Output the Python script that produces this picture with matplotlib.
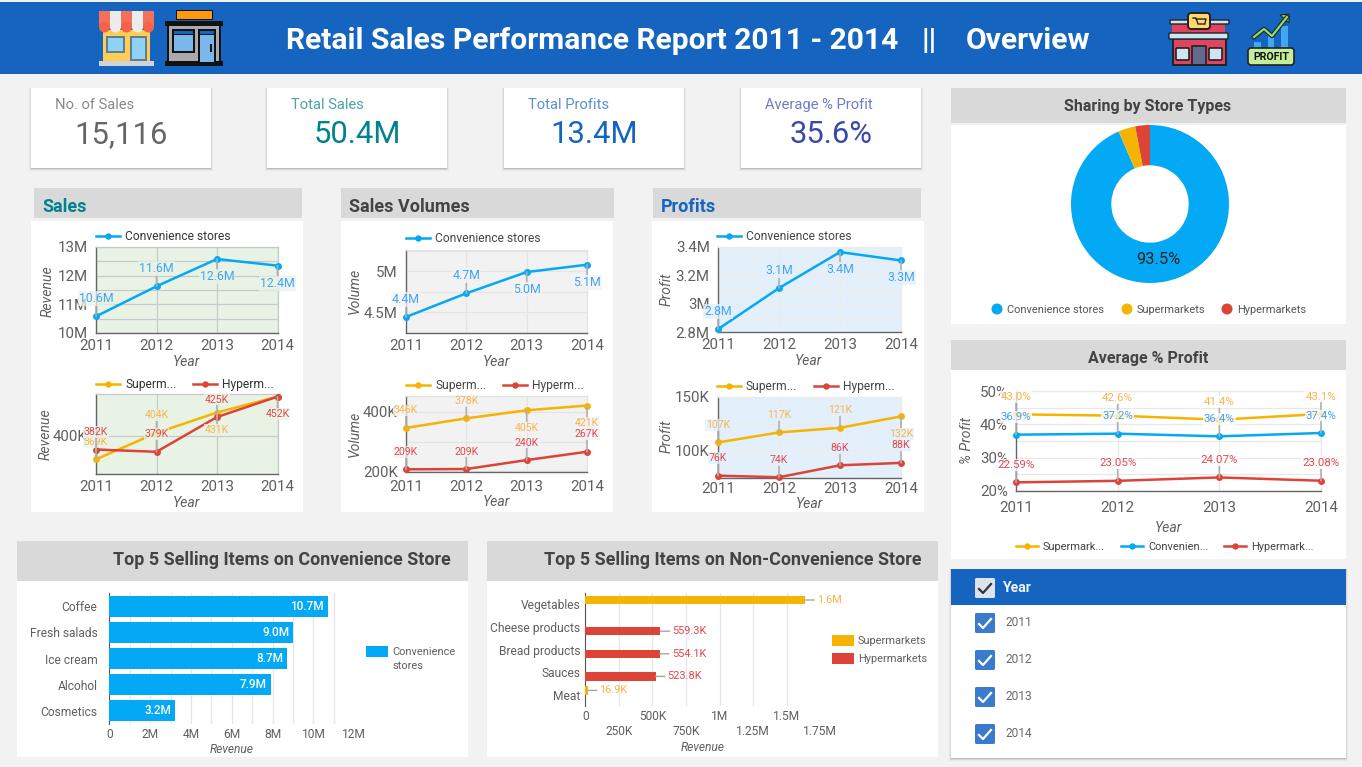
import matplotlib
matplotlib.use("Agg")
import numpy as np
from matplotlib import pyplot as plt
from matplotlib.patches import Rectangle, FancyBboxPatch, Circle, Polygon
from matplotlib.lines import Line2D

plt.rcParams['font.family'] = ['Roboto', 'DejaVu Sans']

W, H = 1362, 767
PT = 0.72  # px -> pt at dpi 100

BLUE = '#03a9f4'
YELLOW = '#f4b400'
RED = '#db4437'
LBL_BLUE = '#3fa4f5'
LBL_YELLOW = '#f9b44a'
LBL_RED = '#e2474e'
HEADER = '#1565c0'

years = [2011, 2012, 2013, 2014]

# sales, millions / thousands
sales_conv = [10.58, 11.63, 12.58, 12.35]
sales_conv_lbl = ['10.6M', '11.6M', '12.6M', '12.4M']
sales_super = [369, 404, 431, 452]
sales_super_lbl = ['369K', '404K', '431K', '']
sales_hyper = [382, 379, 425, 452]
sales_hyper_lbl = ['382K', '379K', '425K', '452K']

# volumes
vol_conv = [4.44, 4.73, 4.99, 5.08]
vol_conv_lbl = ['4.4M', '4.7M', '5.0M', '5.1M']
vol_super = [346, 378, 405, 421]
vol_super_lbl = ['346K', '378K', '405K', '421K']
vol_hyper = [207, 208, 238, 266]
vol_hyper_lbl = ['209K', '209K', '240K', '267K']

# profits
prof_conv = [2.82, 3.11, 3.364, 3.305]
prof_conv_lbl = ['2.8M', '3.1M', '3.4M', '3.3M']
prof_super = [107.8, 117.1, 121.4, 132]
prof_super_lbl = ['107K', '117K', '121K', '132K']
prof_hyper = [77, 75.5, 86.6, 88.8]
prof_hyper_lbl = ['76K', '74K', '86K', '88K']

# average % profit
avg_super = [43.0, 42.6, 41.4, 43.1]
avg_super_lbl = ['43.0%', '42.6%', '41.4%', '43.1%']
avg_conv = [36.9, 37.2, 36.4, 37.4]
avg_conv_lbl = ['36.9%', '37.2%', '36.4%', '37.4%']
avg_hyper = [22.59, 23.05, 24.07, 23.08]
avg_hyper_lbl = ['22.59%', '23.05%', '24.07%', '23.08%']

# store type share
share_names = ['Convenience stores', 'Supermarkets', 'Hypermarkets']
share_values = [93.5, 3.5, 3.0]

# top 5 items
items_conv = ['Coffee', 'Fresh salads', 'Ice cream', 'Alcohol', 'Cosmetics']
items_conv_rev = [10.7, 9.0, 8.7, 7.9, 3.2]
items_conv_lbl = ['10.7M', '9.0M', '8.7M', '7.9M', '3.2M']

items_non = ['Vegetables', 'Cheese products', 'Bread products', 'Sauces', 'Meat']
items_non_super = [1636, 0, 0, 0, 16.9]
items_non_super_lbl = ['1.6M', '', '', '', '16.9K']
items_non_hyper = [0, 559.3, 554.1, 523.8, 0]
items_non_hyper_lbl = ['', '559.3K', '554.1K', '523.8K', '']

kpi_titles = ['No. of Sales', 'Total Sales', 'Total Profits', 'Average % Profit']
kpi_values = ['15,116', '50.4M', '13.4M', '35.6%']

fig = plt.figure(figsize=(W / 100, H / 100), dpi=100, facecolor='#f2f2f2')
bg = fig.add_axes([0, 0, 1, 1], zorder=0)
bg.set_xlim(0, W)
bg.set_ylim(H, 0)
bg.axis('off')


def rect(x0, y0, x1, y1, color, **kw):
    bg.add_patch(Rectangle((x0, y0), x1 - x0, y1 - y0, facecolor=color, edgecolor='none', **kw))


def rrect(x0, y0, x1, y1, color, r=1.5, ec='none', lw=0, **kw):
    bg.add_patch(FancyBboxPatch((x0 + r, y0 + r), x1 - x0 - 2 * r, y1 - y0 - 2 * r,
                                boxstyle='round,pad=%f,rounding_size=%f' % (r, r),
                                facecolor=color, edgecolor=ec, linewidth=lw, **kw))


def txt(x, y, s, px, color='#5f5f5f', ha='left', va='center', **kw):
    # roboto sits a bit high with va=center
    if kw.get('rotation'):
        x = x + 0.08 * px
    else:
        y = y + 0.08 * px
    bg.text(x, y, s, fontsize=px * PT, color=color, ha=ha, va=va, **kw)


def shadow(x0, y0, x1, y1):
    for i, a in zip((3, 2, 1), (0.04, 0.07, 0.12)):
        rect(x0 - i + 1, y0, x1 + i - 1, y1 + i, '#000000', alpha=a)


def px_axes(x0, y0, x1, y1, **kw):
    return fig.add_axes([x0 / W, 1 - y1 / H, (x1 - x0) / W, (y1 - y0) / H], zorder=2, **kw)


def legend_line(x, y, color, label, px=12, tc='#444444', length=24):
    bg.add_line(Line2D([x, x + length], [y, y], color=color, lw=1.8))
    bg.add_line(Line2D([x + length / 2], [y], color=color, marker='o', ms=4.6, mew=0))
    txt(x + length + 5, y, label, px, color=tc)


def line_chart(box, series, ylim, yticks, ylabels, grid, face, gridc, lblpx=10.5, xpad=4.3):
    ax = px_axes(*box)
    ax.set_facecolor(face)
    ax.set_xlim(2011, 2014)
    ax.set_ylim(*ylim)
    ax.set_xticks(years)
    ax.set_xticklabels([str(y) for y in years])
    ax.set_yticks(yticks)
    ax.set_yticklabels(ylabels)
    ax.set_yticks(grid, minor=True)
    ax.tick_params(axis='both', which='both', length=0, labelsize=15 * PT, labelcolor='#5f5f5f')
    ax.tick_params(axis='x', pad=xpad)
    ax.tick_params(axis='y', pad=6)
    ax.grid(True, which='both', color=gridc, lw=0.9)
    ax.set_axisbelow(True)
    for side in ('top', 'right'):
        ax.spines[side].set_color(gridc)
        ax.spines[side].set_linewidth(0.9)
    for side in ('left', 'bottom'):
        ax.spines[side].set_color('#666666')
        ax.spines[side].set_linewidth(1.0)
    for vals, labels, dirs, color, lcolor in series:
        ax.plot(years, vals, color=color, lw=1.8, marker='o', ms=5, mew=0, clip_on=False, zorder=4)
        for yr, v, s, d in zip(years, vals, labels, dirs):
            if not s:
                continue
            ax.annotate(s, (yr, v), xytext=(0, d * 17.5 * PT), textcoords='offset points',
                        ha='center', va='center', fontsize=lblpx * PT, color=lcolor, zorder=5,
                        bbox=dict(boxstyle='square,pad=0.08', fc=face, ec='none', alpha=0.75),
                        arrowprops=dict(arrowstyle='-', color='#b0b0b0', lw=1.2, shrinkA=0, shrinkB=0),
                        annotation_clip=False)
    return ax


# page header
rect(0, 2, W, 74, HEADER)
txt(286, 39, 'Retail Sales Performance Report 2011 - 2014', 30, '#ffffff', weight='bold')
txt(922, 39, '||', 30, '#ffffff', weight='bold')
txt(966, 39, 'Overview', 30, '#ffffff', weight='bold')

# shop icon with awning
rect(103, 30, 150, 62, '#ffcc55')
rect(99, 61, 154, 66, '#d0d4d8')
rect(106, 36, 125, 53, '#5f7f90')
rect(108, 38, 123, 51, '#8fd3f4')
rect(130, 36, 147, 61, '#5f7f90')
rect(132, 38, 145, 59, '#8fd3f4')
for i, c in enumerate(['#f4624a', '#ececec', '#f4624a', '#ececec', '#f4624a']):
    x0 = 99 + i * 11
    rect(x0, 11, x0 + 11, 27, '#f4705a' if i % 2 == 0 else '#ececec')
    bg.add_patch(Circle((x0 + 5.5, 27), 5.5, facecolor=c, edgecolor='none'))

# dark storefront icon
rect(176, 10, 213, 20, '#111111')
rect(177, 11, 212, 19, '#ff9a0e')
rect(165, 21, 223, 26, '#111111')
rect(168, 26, 220, 62, '#aaa9ad', lw=0)
rect(165, 61, 223, 66, '#111111')
rect(167, 25, 169, 62, '#111111')
rect(219, 25, 221, 62, '#111111')
rect(172, 29, 195, 53, '#111111')
rect(174, 31, 193, 34, '#1565c0')
rect(174, 35, 193, 51, '#7ab8ec')
rect(198, 29, 216, 62, '#111111')
rect(200, 31, 214, 34, '#1565c0')
rect(200, 35, 214, 62, '#7ab8ec')
rect(210, 44, 212, 52, '#111111')

# shop with cart icon
rect(1172, 22, 1225, 36, '#e0445f')
rrect(1170, 20, 1229, 24, '#cfe5f2', r=1, ec='#222222', lw=1)
rect(1173, 40, 1226, 65, '#e0445f')
rrect(1169, 33, 1228, 39, '#cfe5f2', r=1, ec='#222222', lw=1)
rrect(1188, 13, 1210, 29, '#ffd970', r=3, ec='#222222', lw=1.4)
bg.add_line(Line2D([1193, 1196, 1198, 1205], [18, 18, 24, 24], color='#222222', lw=1))
bg.add_line(Line2D([1196, 1206, 1205], [19, 19, 23], color='#222222', lw=1))
bg.add_line(Line2D([1173, 1173, 1226, 1226], [40, 65, 65, 40], color='#222222', lw=1.4))
rrect(1176, 48, 1189, 60, '#cfe5f2', r=1, ec='#222222', lw=1.2)
rrect(1209, 48, 1222, 60, '#cfe5f2', r=1, ec='#222222', lw=1.2)
rect(1192, 46, 1206, 65, '#666a8f')
bg.add_line(Line2D([1192, 1192, 1206, 1206], [65, 46, 46, 65], color='#222222', lw=1.2))

# profit icon
rect(1254, 42, 1261, 50, '#44a5f0')
rect(1268, 34, 1274, 50, '#44a5f0')
rect(1281, 26, 1288, 50, '#44a5f0')
bg.add_line(Line2D([1254, 1264, 1272, 1287], [37, 29, 36, 17], color='#222222', lw=3.2))
bg.add_line(Line2D([1254, 1264, 1272, 1287], [37, 29, 36, 17], color='#8fdc6f', lw=1.6))
bg.add_patch(Polygon([[1280, 15], [1289, 14], [1289, 23]], facecolor='#8fdc6f', edgecolor='#222222', lw=0.8))
rrect(1248, 48, 1294, 65, '#c5ee9c', r=3, ec='#222222', lw=1.2)
txt(1271, 56.5, 'PROFIT', 10.5, '#111111', ha='center', weight='bold')

# KPI cards
kpi_x = [31, 267, 504, 741]
kpi_tc = ['#8a8a8a', '#4ba3a8', '#5b8fd0', '#6f7cc8']
kpi_vc = ['#666666', '#00838f', '#1565c0', '#3949ab']
for x, t, v, tc, vc in zip(kpi_x, kpi_titles, kpi_values, kpi_tc, kpi_vc):
    shadow(x, 88, x + 180, 168)
    rect(x, 88, x + 180, 168, '#ffffff')
    txt(x + 24, 104, t, 14.8, tc)
    txt(x + 90, 132, v, 31, vc, ha='center')

# panel backgrounds
rect(31, 221, 303, 512, '#ffffff')
rect(341, 221, 613, 512, '#ffffff')
rect(652, 221, 924, 512, '#ffffff')
rect(34, 188, 302, 218, '#d9d9d9')
rect(341, 188, 614, 218, '#d9d9d9')
rect(653, 188, 921, 218, '#d9d9d9')
txt(42, 206, 'Sales', 18, '#00838f', weight='bold')
txt(349, 206, 'Sales Volumes', 18, '#434343', weight='bold')
txt(661, 206, 'Profits', 18, '#1565c0', weight='bold')

rect(951, 88, 1346, 123, '#d9d9d9')
rect(951, 125, 1346, 324, '#ffffff')
txt(1148, 105, 'Sharing by Store Types', 16, '#434343', ha='center', weight='bold')
rect(951, 340, 1346, 370, '#d9d9d9')
rect(951, 370, 1346, 559, '#ffffff')
txt(1148, 357, 'Average % Profit', 16, '#434343', ha='center', weight='bold')

rect(17, 541, 468, 581, '#d9d9d9')
rect(17, 581, 468, 757, '#ffffff')
txt(451, 559, 'Top 5 Selling Items on Convenience Store', 17.9, '#434343', ha='right', weight='bold')
rect(487, 541, 938, 581, '#d9d9d9')
rect(487, 581, 938, 757, '#ffffff')
txt(921, 559, 'Top 5 Selling Items on Non-Convenience Store', 17.9, '#434343', ha='right', weight='bold')

GREEN_BG, GREEN_GRID = '#e8f3e6', '#c9c9c9'
GREY_BG, GREY_GRID = '#f2f2f2', '#e4e4e4'
SKY_BG, SKY_GRID = '#e3f0fb', '#ebebeb'

# sales charts
legend_line(96, 236, BLUE, 'Convenience stores', tc='#333333')
line_chart((96, 247, 277.5, 333), [(sales_conv, sales_conv_lbl, [1, 1, -1, -1], BLUE, LBL_BLUE)],
           (10, 13), [10, 11, 12, 13], ['10M', '11M', '12M', '13M'], [10.5, 11.5, 12.5], GREEN_BG, GREEN_GRID, 12.2)
legend_line(96, 384, YELLOW, 'Superm...', tc='#333333')
legend_line(193, 384, RED, 'Hyperm...', tc='#333333')
line_chart((96, 394, 277.5, 474),
           [(sales_super, sales_super_lbl, [1, 1, -1, 1], YELLOW, LBL_YELLOW),
            (sales_hyper, sales_hyper_lbl, [1, 1, 1, -1], RED, LBL_RED)],
           (349.6, 455.5), [400], ['400K'], [], GREEN_BG, GREEN_GRID)
txt(46, 291, 'Revenue', 14, rotation=90, ha='center', style='italic')
txt(44, 434, 'Revenue', 14, rotation=90, ha='center', style='italic')
txt(187, 361, 'Year', 14, ha='center', style='italic')
txt(187, 502, 'Year', 14, ha='center', style='italic')

# volume charts
legend_line(406, 238, BLUE, 'Convenience stores')
line_chart((406, 250, 587, 333), [(vol_conv, vol_conv_lbl, [1, 1, -1, -1], BLUE, LBL_BLUE)],
           (4.244, 5.26), [4.5, 5], ['4.5M', '5M'], [4.25, 4.75, 5.25], GREY_BG, GREY_GRID, 12.2)
legend_line(406, 385, YELLOW, 'Superm...')
legend_line(503, 385, RED, 'Hyperm...')
line_chart((406, 396, 587, 472),
           [(vol_super, vol_super_lbl, [1, 1, -1, -1], YELLOW, LBL_YELLOW),
            (vol_hyper, vol_hyper_lbl, [1, 1, 1, 1], RED, LBL_RED)],
           (198, 453), [200, 400], ['200K', '400K'], [300], GREY_BG, GREY_GRID, xpad=5.7)
txt(354, 291, 'Volume', 14, rotation=90, ha='center', style='italic')
txt(354, 434, 'Volume', 14, rotation=90, ha='center', style='italic')
txt(497, 361, 'Year', 14, ha='center', style='italic')
txt(497, 501, 'Year', 14, ha='center', style='italic')

# profit charts
legend_line(717, 236, BLUE, 'Convenience stores')
line_chart((718, 247, 901, 332), [(prof_conv, prof_conv_lbl, [1, 1, -1, -1], BLUE, LBL_BLUE)],
           (2.8, 3.4), [2.8, 3.0, 3.2, 3.4], ['2.8M', '3M', '3.2M', '3.4M'], [2.9, 3.1, 3.3], SKY_BG, SKY_GRID, 12.2)
legend_line(717, 386, YELLOW, 'Superm...')
legend_line(814, 386, RED, 'Hyperm...')
line_chart((718, 397, 901, 478),
           [(prof_super, prof_super_lbl, [1, 1, 1, -1], YELLOW, LBL_YELLOW),
            (prof_hyper, prof_hyper_lbl, [1, 1, 1, 1], RED, LBL_RED)],
           (74.8, 150), [100, 150], ['100K', '150K'], [125], SKY_BG, SKY_GRID, xpad=2.8)
txt(665, 289, 'Profit', 14, rotation=90, ha='center', style='italic')
txt(665, 436, 'Profit', 14, rotation=90, ha='center', style='italic')
txt(809, 360, 'Year', 14, ha='center', style='italic')
txt(810, 503, 'Year', 14, ha='center', style='italic')

# donut
ax_pie = px_axes(1071, 125, 1229, 283)
ax_pie.pie(share_values, colors=[BLUE, YELLOW, RED], startangle=90, counterclock=False,
           radius=1.0, wedgeprops=dict(width=0.51, edgecolor='none'))
ax_pie.set_xlim(-1, 1)
ax_pie.set_ylim(-1, 1)
ax_pie.text(0.11, -0.70, '93.5%', fontsize=16.5 * PT, color='#222222', ha='center', va='center')
for x, name, c in zip([997, 1127, 1227], share_names, [BLUE, YELLOW, RED]):
    bg.add_patch(Circle((x, 309), 5.5, facecolor=c, edgecolor='none'))
    txt(x + 10, 309, name, 11, '#555555')

# average % profit chart
line_chart((1016, 391, 1321, 491),
           [(avg_super, avg_super_lbl, [1, 1, 1, 1], YELLOW, LBL_YELLOW),
            (avg_conv, avg_conv_lbl, [1, 1, 1, 1], BLUE, LBL_BLUE),
            (avg_hyper, avg_hyper_lbl, [1, 1, 1, 1], RED, LBL_RED)],
           (20, 50), [20, 30, 40, 50], ['20%', '30%', '40%', '50%'], [25, 35, 45], '#ffffff', '#e8e8e8', 11.5, xpad=7.2)
txt(966, 441, '% Profit', 14, rotation=90, ha='center', style='italic')
txt(1169, 527, 'Year', 14, ha='center', style='italic')
legend_line(1016, 546, YELLOW, 'Supermark...', 11, length=22)
legend_line(1121, 546, BLUE, 'Convenien...', 11, length=22)
legend_line(1224, 546, RED, 'Hypermark...', 11, length=22)

# top items, convenience
ax = px_axes(109.3, 593, 354.3, 724)
ypos = np.arange(len(items_conv))
ax.barh(ypos, items_conv_rev, height=0.8, color=BLUE, zorder=3)
for y, v, s in zip(ypos, items_conv_rev, items_conv_lbl):
    ax.text(v - 0.18, y, s, ha='right', va='center', color='#ffffff', fontsize=11.8 * PT, weight='medium', zorder=4)
ax.set_xlim(0, 12)
ax.set_ylim(4.5, -0.5)
ax.set_yticks(ypos)
ax.set_yticklabels(items_conv)
ax.set_xticks([0, 2, 4, 6, 8, 10, 12])
ax.set_xticklabels(['0', '2M', '4M', '6M', '8M', '10M', '12M'])
ax.set_xticks([1, 3, 5, 7, 9, 11], minor=True)
ax.tick_params(axis='both', which='both', length=0, labelsize=12 * PT, labelcolor='#5f5f5f')
ax.tick_params(axis='y', pad=8.5)
ax.tick_params(axis='x', pad=3)
ax.grid(True, axis='x', which='both', color='#e6e6e6', lw=0.9)
ax.set_axisbelow(True)
for side in ('top', 'right', 'bottom'):
    ax.spines[side].set_visible(False)
ax.spines['left'].set_color('#555555')
txt(232, 749, 'Revenue', 12, ha='center', style='italic')
rect(366, 646, 388, 657, BLUE)
txt(392, 651, 'Convenience', 11)
txt(392, 665, 'stores', 11)

# top items, non convenience
ax = px_axes(585.3, 593, 820.3, 706)
ypos = np.arange(len(items_non))
ax.barh(ypos - 0.19, items_non_super, height=0.38, color=YELLOW, zorder=3)
ax.barh(ypos + 0.19, items_non_hyper, height=0.38, color=RED, zorder=3)
for offs, vals, labels, c in [(-0.19, items_non_super, items_non_super_lbl, LBL_YELLOW),
                              (0.19, items_non_hyper, items_non_hyper_lbl, LBL_RED)]:
    for y, v, s in zip(ypos, vals, labels):
        if s:
            ax.annotate(s, (v, y + offs), xytext=(12 * PT, 0), textcoords='offset points', ha='left', va='center',
                        fontsize=11 * PT, color=c, zorder=4, annotation_clip=False,
                        arrowprops=dict(arrowstyle='-', color='#a5a5a5', lw=1, shrinkA=0, shrinkB=0))
ax.set_xlim(0, 1750)
ax.set_ylim(4.5, -0.5)
ax.set_yticks(ypos)
ax.set_yticklabels(items_non)
ax.set_xticks([0, 500, 1000, 1500])
ax.set_xticklabels(['0', '500K', '1M', '1.5M'])
ax.set_xticks([250, 750, 1250, 1750], minor=True)
ax.set_xticklabels(['250K', '750K', '1.25M', '1.75M'], minor=True)
ax.tick_params(axis='both', which='both', length=0, labelsize=12 * PT, labelcolor='#5f5f5f')
ax.tick_params(axis='y', pad=3.5)
ax.tick_params(axis='x', which='major', pad=3)
ax.tick_params(axis='x', which='minor', pad=14)
ax.grid(True, axis='x', which='both', color='#e6e6e6', lw=0.9)
ax.set_axisbelow(True)
for side in ('top', 'right', 'bottom'):
    ax.spines[side].set_visible(False)
ax.spines['left'].set_color('#555555')
txt(703, 747, 'Revenue', 12, ha='center', style='italic')
rect(832, 635, 854, 646, YELLOW)
txt(858, 640, 'Supermarkets', 11)
rect(832, 653, 854, 664, RED)
txt(858, 658, 'Hypermarkets', 11)


# year filter
def check(cx, cy, color):
    bg.add_line(Line2D([cx - 6, cx - 2, cx + 6], [cy, cy + 4, cy - 5], color=color, lw=1.6, zorder=5))


shadow(951, 569, 1346, 758)
rect(951, 569, 1346, 758, '#ffffff')
rect(951, 569, 1346, 605, HEADER)
rrect(975, 578, 995, 598, '#dde3ee', r=1.5)
check(985, 589, '#333333')
txt(1002, 587, 'Year', 14, '#f0f4fa', weight='bold')
for cy, yr in zip([623, 660, 697, 734], years):
    rrect(975, cy - 10, 995, cy + 10, '#3a7bcd', r=1.5)
    check(985, cy + 1, '#ffffff')
    txt(1005, cy - 1, str(yr), 12, '#6a6a6a')

fig.savefig('out.png', dpi=100, facecolor=fig.get_facecolor())
